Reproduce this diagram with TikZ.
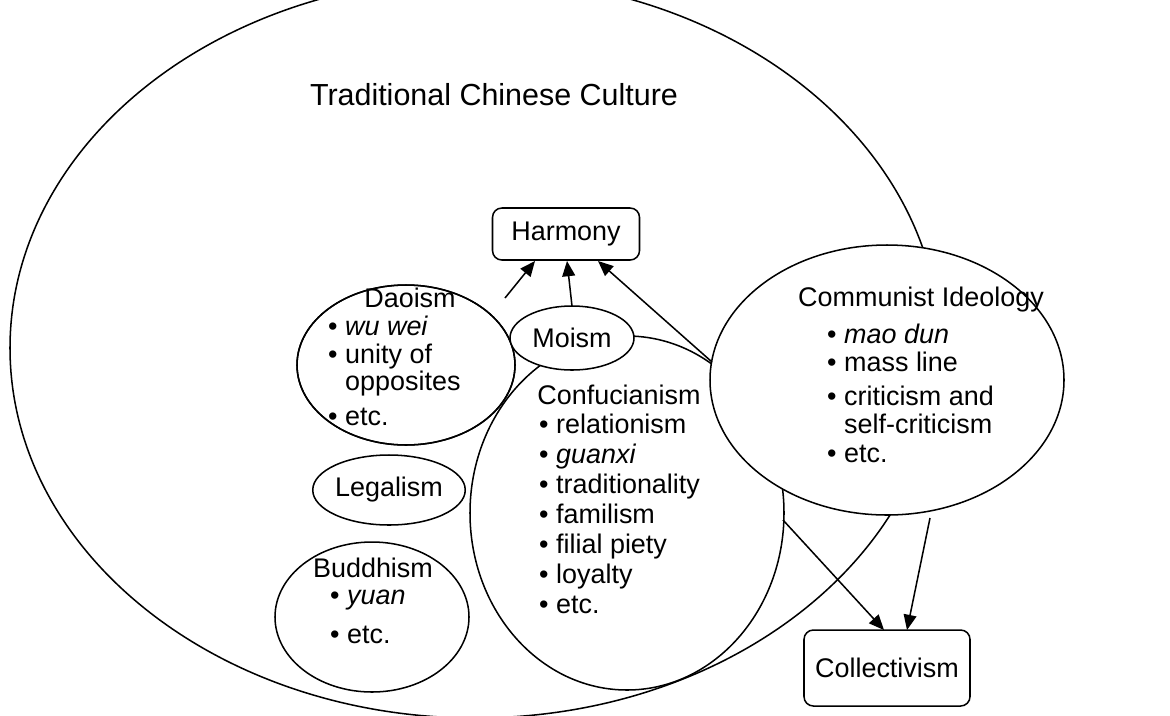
\documentclass[tikz,border=0pt]{standalone}
\usepackage{fontspec}
\setmainfont{Liberation Sans}
\usetikzlibrary{shapes.geometric,arrows.meta}
\begin{document}
\begin{tikzpicture}[x=0.03cm,y=-0.03cm,
  every node/.style={font=\fontsize{23}{23}\selectfont},
  ell/.style={draw,line width=1.3pt,ellipse,inner sep=0pt},
  box/.style={draw,line width=1.3pt,rounded corners=8pt,inner sep=0pt},
  lst/.style={align=left,inner sep=0pt,anchor=north west},
  arr/.style={line width=1.3pt,-{Triangle[length=13pt,width=11pt]}}]
\useasboundingbox (0,0) rectangle (1170,715);
\node[ell,minimum width=930*0.03cm,minimum height=740*0.03cm] (tcc) at (475,348) {};
\node[font=\fontsize{26}{26}\selectfont] (title) at (494,95) {Traditional Chinese Culture};
\node[ell,minimum width=218*0.03cm,minimum height=160*0.03cm] (dao) at (406,365) {};
\node[ell,fill=white,minimum width=314*0.03cm,minimum height=354*0.03cm] (conf) at (627,513) {};
\draw[line width=1.3pt] (dao.center) ++(0,0) ellipse [x radius=109, y radius=80];
\node[ell,fill=white,minimum width=124*0.03cm,minimum height=64*0.03cm] (moism) at (572,338) {Moism};
\node[ell,minimum width=120*0.03cm,minimum height=70*0.03cm] (leg) at (389,490) {Legalism};
\node[ell,minimum width=194*0.03cm,minimum height=150*0.03cm] (bud) at (372,617) {};
\node[ell,fill=white,minimum width=354*0.03cm,minimum height=270*0.03cm] (com) at (887,380) {};
\node[box,minimum width=147*0.03cm,minimum height=52*0.03cm] (harm) at (566,234) {Harmony};
\node[box,minimum width=166*0.03cm,minimum height=76*0.03cm] (coll) at (887,668) {Collectivism};
% texts
\node (daot) at (410,298) {Daoism};
\node[lst,font=\fontsize{23}{23.5}\selectfont] (daol) at (328,316) {\textbullet\ \textit{wu wei}\\ \textbullet\ unity of\\ \hphantom{\textbullet\ }opposites\\[6pt] \textbullet\ etc.};
\node (conft) at (619,395) {Confucianism};
\node[lst,font=\fontsize{23}{25.5}\selectfont] (confl) at (539,414) {\textbullet\ relationism\\ \textbullet\ \textit{guanxi}\\ \textbullet\ traditionality\\ \textbullet\ familism\\ \textbullet\ filial piety\\ \textbullet\ loyalty\\ \textbullet\ etc.};
\node (comt) at (921,300) {Communist Ideology};
\node[lst,font=\fontsize{23}{24}\selectfont] (coml) at (827,324) {\textbullet\ \textit{mao dun}\\ \textbullet\ mass line\\[5pt] \textbullet\ criticism and\\ \hphantom{\textbullet\ }self-criticism\\ \textbullet\ etc.};
\node (budt) at (373,568) {Buddhism};
\node[lst] (budl) at (330,590) {\textbullet\ \textit{yuan}\\[10pt] \textbullet\ etc.};
% arrows
\coordinate (d1) at (505,298);
\coordinate (h1) at (535,261);
\coordinate (m1) at (572,306);
\coordinate (h2) at (567,261);
\coordinate (c1) at (712,362);
\coordinate (h3) at (598,261);
\coordinate (c2) at (783,520);
\coordinate (k1) at (884,630);
\coordinate (c3) at (930,518);
\coordinate (k2) at (907,630);
\draw[arr] (d1) -- (h1);
\draw[arr] (m1) -- (h2);
\draw[arr] (c1) -- (h3);
\draw[arr] (c2) -- (k1);
\draw[arr] (c3) -- (k2);
\end{tikzpicture}
\end{document}
